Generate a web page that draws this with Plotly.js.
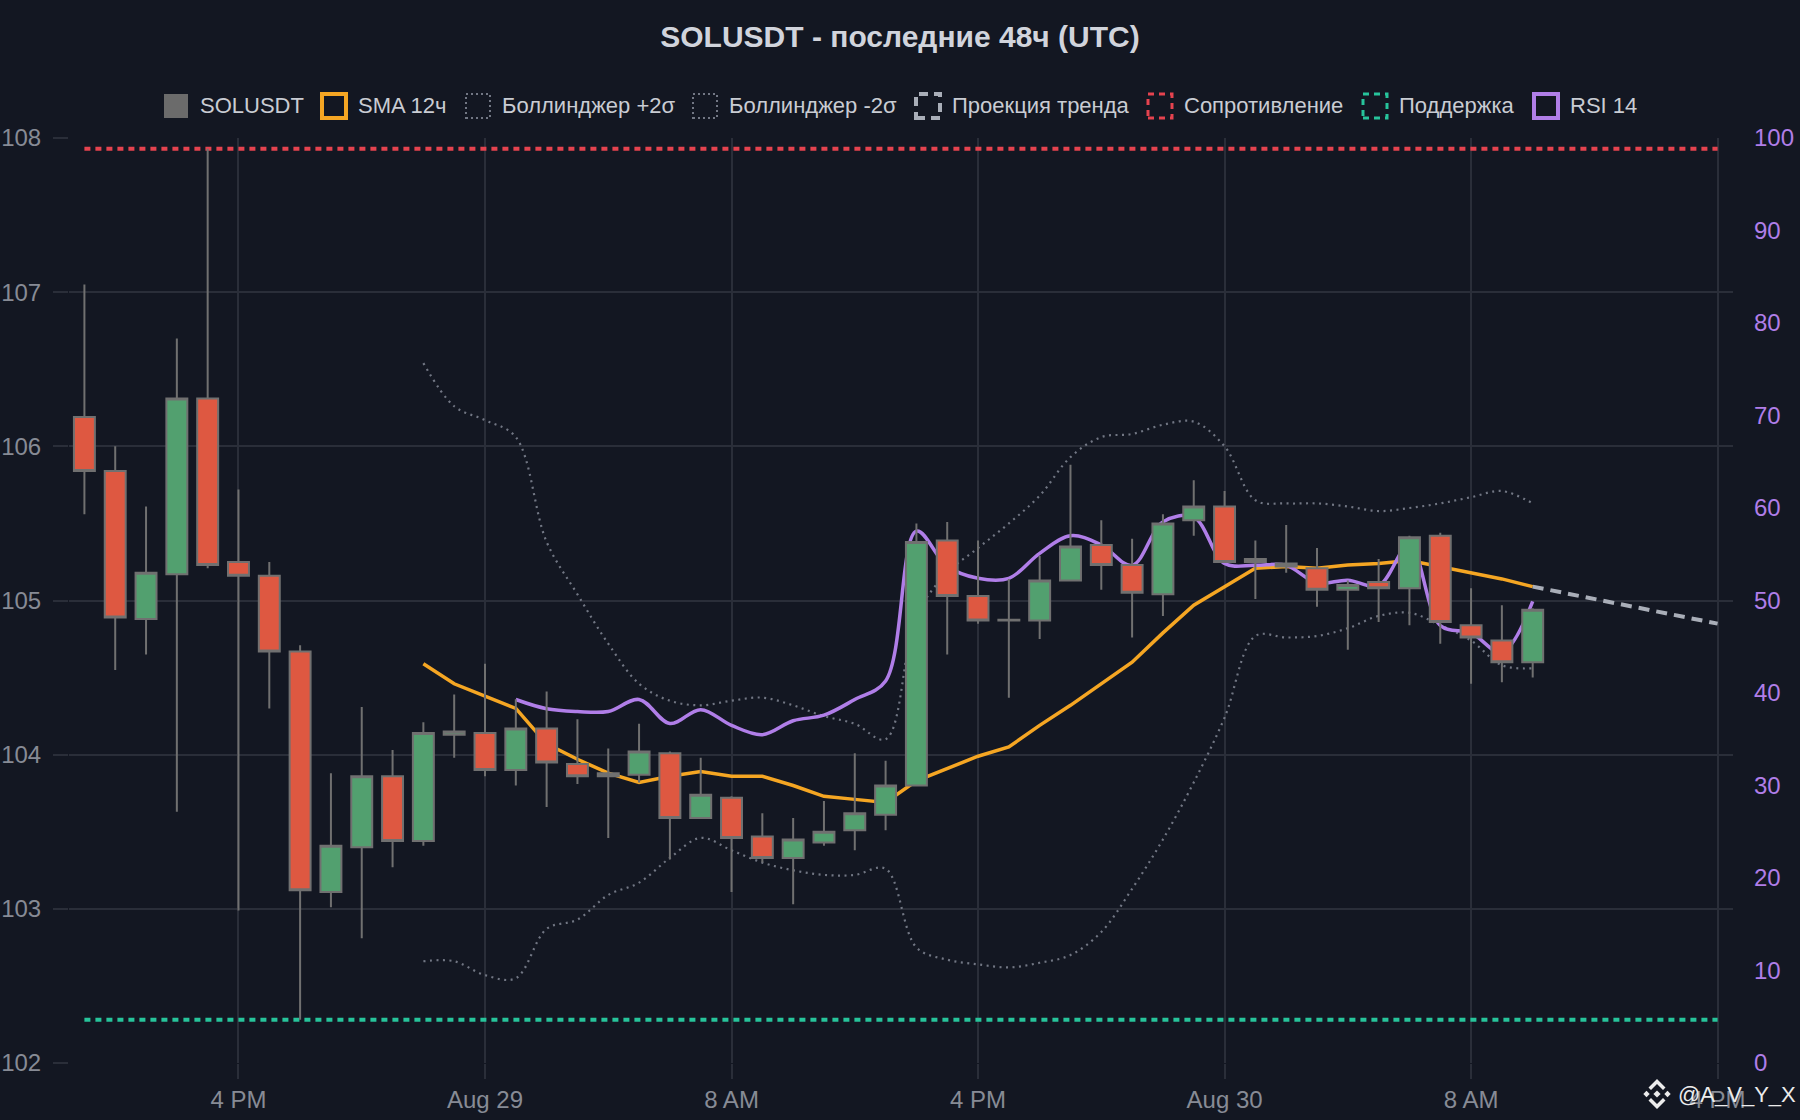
<!DOCTYPE html>
<html>
<head>
<meta charset="utf-8">
<script src="https://cdn.plot.ly/plotly-3.0.1.min.js"></script>
<style>
html,body{margin:0;padding:0;background:#131722;}
#chart{width:1800px;height:1120px;}
</style>
</head>
<body>
<div id="chart"></div>
<script>
// ---------------- DATA ----------------
const times = [
'2025-08-28 11:00','2025-08-28 12:00','2025-08-28 13:00','2025-08-28 14:00','2025-08-28 15:00','2025-08-28 16:00',
'2025-08-28 17:00','2025-08-28 18:00','2025-08-28 19:00','2025-08-28 20:00','2025-08-28 21:00','2025-08-28 22:00',
'2025-08-28 23:00','2025-08-29 00:00','2025-08-29 01:00','2025-08-29 02:00','2025-08-29 03:00','2025-08-29 04:00',
'2025-08-29 05:00','2025-08-29 06:00','2025-08-29 07:00','2025-08-29 08:00','2025-08-29 09:00','2025-08-29 10:00',
'2025-08-29 11:00','2025-08-29 12:00','2025-08-29 13:00','2025-08-29 14:00','2025-08-29 15:00','2025-08-29 16:00',
'2025-08-29 17:00','2025-08-29 18:00','2025-08-29 19:00','2025-08-29 20:00','2025-08-29 21:00','2025-08-29 22:00',
'2025-08-29 23:00','2025-08-30 00:00','2025-08-30 01:00','2025-08-30 02:00','2025-08-30 03:00','2025-08-30 04:00',
'2025-08-30 05:00','2025-08-30 06:00','2025-08-30 07:00','2025-08-30 08:00','2025-08-30 09:00','2025-08-30 10:00'
];
const openP = [106.19,105.84,104.88,105.17,106.31,105.25,105.16,104.67,103.11,103.40,103.86,103.44,
104.13,104.14,103.90,104.17,103.94,103.86,103.87,104.01,103.59,103.72,103.47,103.33,
103.43,103.51,103.61,103.80,105.39,105.03,104.87,104.87,105.13,105.36,105.23,105.04,
105.52,105.61,105.27,105.24,105.21,105.07,105.12,105.08,105.42,104.84,104.74,104.60];
const highP = [107.05,106.00,105.61,106.70,107.93,105.72,105.25,104.71,103.88,104.31,104.03,104.21,
104.39,104.59,104.36,104.41,104.23,104.04,104.20,104.02,103.98,103.73,103.62,103.59,
103.70,104.01,103.96,105.50,105.51,105.39,105.14,105.29,105.88,105.52,105.40,105.56,
105.78,105.71,105.39,105.49,105.34,105.13,105.27,105.42,105.44,105.08,104.97,104.95];
const lowP = [105.56,104.55,104.65,103.63,105.21,102.99,104.30,102.28,103.01,102.81,103.27,103.41,
103.98,103.86,103.80,103.66,103.81,103.46,103.82,103.32,103.59,103.11,103.30,103.03,
103.41,103.38,103.51,103.80,104.65,104.85,104.37,104.75,105.13,105.07,104.76,104.90,
105.42,105.25,105.01,105.18,104.96,104.68,104.86,104.84,104.72,104.46,104.47,104.50];
const closeP = [105.84,104.89,105.18,106.31,105.23,105.16,104.67,103.12,103.41,103.86,103.44,104.14,
104.15,103.90,104.17,103.95,103.86,103.88,104.02,103.59,103.74,103.46,103.33,103.45,
103.50,103.62,103.80,105.38,105.03,104.87,104.875,105.13,105.35,105.23,105.05,105.50,
105.61,105.25,105.25,105.22,105.07,105.10,105.08,105.41,104.86,104.76,104.60,104.94];

const sma12 = [null,null,null,null,null,null,null,null,null,null,null,104.59,
104.46,104.38,104.30,104.07,103.97,103.88,103.82,103.86,103.89,103.86,103.86,103.80,
103.73,103.71,103.69,103.83,103.91,103.99,104.05,104.19,104.32,104.46,104.60,104.79,
104.97,105.09,105.21,105.22,105.21,105.23,105.24,105.26,105.22,105.18,105.14,105.09];
const bbUpper = [null,null,null,null,null,null,null,null,null,null,null,106.54,
106.26,106.17,106.06,105.38,105.04,104.72,104.46,104.35,104.32,104.35,104.37,104.32,
104.25,104.20,104.10,104.90,105.18,105.34,105.50,105.68,105.93,106.06,106.08,106.14,
106.16,106.00,105.65,105.63,105.63,105.61,105.58,105.60,105.63,105.67,105.71,105.63];
const bbLower = [null,null,null,null,null,null,null,null,null,null,null,102.66,
102.66,102.57,102.55,102.87,102.93,103.09,103.17,103.33,103.46,103.38,103.30,103.25,
103.22,103.22,103.26,102.75,102.67,102.64,102.62,102.65,102.70,102.85,103.13,103.45,
103.82,104.24,104.77,104.76,104.77,104.82,104.90,104.92,104.84,104.74,104.58,104.56];
const rsi14 = [null,null,null,null,null,null,null,null,null,null,null,null,
null,null,39.3,38.3,38.0,38.0,39.3,36.7,38.2,36.5,35.5,37.0,
37.6,39.3,41.3,57.5,53.7,52.4,52.4,55.1,57.0,56.0,53.8,58.5,
59.0,54.0,53.8,53.8,51.9,52.2,51.6,56.0,47.3,46.5,44.4,49.9];

const projTimes = ['2025-08-30 10:00','2025-08-30 16:00'];
const projValues = [105.09, 104.85];
const levelTimes = ['2025-08-28 11:00','2025-08-30 16:00'];
const resistanceValues = [107.93, 107.93];
const supportValues = [102.28, 102.28];

const xTickVals = ['2025-08-28 16:00','2025-08-29 00:00','2025-08-29 08:00','2025-08-29 16:00','2025-08-30 00:00','2025-08-30 08:00','2025-08-30 16:00'];
const xTickText = ['4 PM','Aug 29','8 AM','4 PM','Aug 30','8 AM','4 PM'];
const xRange = ['2025-08-28 10:30','2025-08-30 16:30'];

const legendLabels = ['SOLUSDT','SMA 12ч','Боллинджер +2σ','Боллинджер -2σ','Проекция тренда','Сопротивление','Поддержка','RSI 14'];
const titleText = 'SOLUSDT - последние 48ч (UTC)';
const watermarkText = '@A_V_Y_X';

// ---------------- STYLE ----------------
const W = 1800, H = 1120, ML = 69, MR = 67, MT = 138, MB = 57;
const PW = W - ML - MR, PH = H - MT - MB;
const px = x => (x - ML) / PW;
const py = y => (H - MB - y) / PH;

const C = {
  bg: '#131722', grid: '#2a2e39', tick: '#878b95', title: '#d1d4dc', legendText: '#c9ccd3',
  up: '#52a06f', down: '#de5841', wick: '#707070',
  sma: '#f5a623', rsi: '#b07ee8', bb: '#727784', proj: '#a9aeb8',
  res: '#e5434f', sup: '#27c49b', white: '#ececec'
};
const FONT = 'Liberation Sans, Arial, Helvetica, sans-serif';

// ---------------- TRACES ----------------
// price lines on the base axis, RSI on an overlay, candles on a top overlay (drawn last)
const traces = [
  {type: 'scatter', mode: 'lines', x: times, y: bbUpper, line: {color: C.bb, width: 2.2, dash: '2px,4.5px', shape: 'spline'}, showlegend: false, hoverinfo: 'skip'},
  {type: 'scatter', mode: 'lines', x: times, y: bbLower, line: {color: C.bb, width: 2.2, dash: '2px,4.5px', shape: 'spline'}, showlegend: false, hoverinfo: 'skip'},
  {type: 'scatter', mode: 'lines', x: times, y: sma12, line: {color: C.sma, width: 3.5}, showlegend: false, hoverinfo: 'skip'},
  {type: 'scatter', mode: 'lines', x: levelTimes, y: resistanceValues, line: {color: C.res, width: 4, dash: '6px,5px'}, showlegend: false, hoverinfo: 'skip'},
  {type: 'scatter', mode: 'lines', x: levelTimes, y: supportValues, line: {color: C.sup, width: 4, dash: '6px,5px'}, showlegend: false, hoverinfo: 'skip'},
  {type: 'scatter', mode: 'lines', x: projTimes, y: projValues, line: {color: C.proj, width: 4, dash: '11px,7px'}, showlegend: false, hoverinfo: 'skip'},
  {type: 'scatter', mode: 'lines', x: times, y: rsi14, yaxis: 'y2', line: {color: C.rsi, width: 3.5, shape: 'spline'}, showlegend: false, hoverinfo: 'skip'},
  {
    type: 'candlestick', x: times, open: openP, high: highP, low: lowP, close: closeP, yaxis: 'y3',
    increasing: {fillcolor: C.up, line: {color: C.wick, width: 2}},
    decreasing: {fillcolor: C.down, line: {color: C.wick, width: 2}},
    whiskerwidth: 0, showlegend: false, hoverinfo: 'skip', name: 'SOLUSDT'
  }
];

// ---------------- LEGEND (custom, square icons) ----------------
const legendIconLeft = [164, 322, 466, 693, 916, 1148, 1363, 1534];
const legendIconStyle = [
  {fill: '#6b6b6b', color: '#6b6b6b', width: 0, dash: 'solid'},
  {fill: 'rgba(0,0,0,0)', color: C.sma, width: 4, dash: 'solid'},
  {fill: 'rgba(0,0,0,0)', color: C.bb, width: 2, dash: '2px,3px'},
  {fill: 'rgba(0,0,0,0)', color: C.bb, width: 2, dash: '2px,3px'},
  {fill: 'rgba(0,0,0,0)', color: C.proj, width: 4, dash: '9px,6px'},
  {fill: 'rgba(0,0,0,0)', color: C.res, width: 3, dash: '6px,5px'},
  {fill: 'rgba(0,0,0,0)', color: C.sup, width: 3, dash: '6px,5px'},
  {fill: 'rgba(0,0,0,0)', color: C.rsi, width: 4, dash: 'solid'}
];
const LEG_Y = 106, ICON = 24;
const shapes = [];
const annotations = [];
legendLabels.forEach((lab, i) => {
  const x0 = legendIconLeft[i], st = legendIconStyle[i];
  shapes.push({
    type: 'rect', xref: 'paper', yref: 'paper', layer: 'above',
    x0: px(x0), x1: px(x0 + ICON), y0: py(LEG_Y + ICON / 2), y1: py(LEG_Y - ICON / 2),
    fillcolor: st.fill, line: {color: st.color, width: st.width, dash: st.dash}
  });
  annotations.push({
    xref: 'paper', yref: 'paper', x: px(x0 + ICON + 11), y: py(LEG_Y), xanchor: 'left', yanchor: 'middle',
    text: lab, showarrow: false, font: {family: FONT, size: 22, color: C.legendText}, borderpad: 0
  });
});

// watermark: Binance-like logo + handle
const LX = 1657, LY = 1094;
function poly(pts) {
  return 'M' + pts.map(p => px(p[0]) + ',' + py(p[1])).join('L') + 'Z';
}
function diamond(cx, cy, r) { return poly([[cx, cy - r], [cx + r, cy], [cx, cy + r], [cx - r, cy]]); }
const logoPaths = [
  diamond(LX, LY, 3.6),
  diamond(LX - 10.5, LY, 3.2),
  diamond(LX + 10.5, LY, 3.2),
  poly([[LX, LY - 15], [LX + 8.5, LY - 6.5], [LX + 6, LY - 4], [LX, LY - 10], [LX - 6, LY - 4], [LX - 8.5, LY - 6.5]]),
  poly([[LX, LY + 15], [LX + 8.5, LY + 6.5], [LX + 6, LY + 4], [LX, LY + 10], [LX - 6, LY + 4], [LX - 8.5, LY + 6.5]])
];
logoPaths.forEach(p => shapes.push({type: 'path', xref: 'paper', yref: 'paper', layer: 'above', path: p, fillcolor: C.white, line: {width: 0}}));
annotations.push({
  xref: 'paper', yref: 'paper', x: px(1677), y: py(LY), xanchor: 'left', yanchor: 'middle',
  text: watermarkText, showarrow: false, font: {family: FONT, size: 22, color: C.white}, borderpad: 0
});

// ---------------- LAYOUT ----------------
const layout = {
  width: W, height: H,
  paper_bgcolor: C.bg, plot_bgcolor: C.bg,
  margin: {l: ML, r: MR, t: MT, b: MB, pad: 0},
  font: {family: FONT, color: C.tick},
  showlegend: false,
  hovermode: false,
  boxgap: 0.15, boxgroupgap: 0.2,
  title: {
    text: '<b>' + titleText + '</b>', x: 0.5, xanchor: 'center', y: 1 - 36 / H, yanchor: 'middle', yref: 'container',
    font: {family: FONT, size: 30, color: C.title}
  },
  xaxis: {
    type: 'date', range: xRange, tickmode: 'array', tickvals: xTickVals, ticktext: xTickText,
    showgrid: true, gridcolor: C.grid, gridwidth: 2, zeroline: false, showline: false,
    ticks: 'outside', ticklen: 15, tickwidth: 2, tickcolor: C.grid, ticklabelstandoff: 0,
    tickfont: {family: FONT, size: 24, color: C.tick},
    rangeslider: {visible: false}, fixedrange: true
  },
  yaxis: {
    range: [102, 108], dtick: 1, tick0: 102, showgrid: true, gridcolor: C.grid, gridwidth: 2,
    zeroline: false, showline: false, ticks: 'outside', ticklen: 15, tickwidth: 2, tickcolor: C.grid,
    ticklabelstandoff: 7, tickfont: {family: FONT, size: 24, color: C.tick}, fixedrange: true
  },
  yaxis2: {
    overlaying: 'y', side: 'right', range: [0, 100], dtick: 10, tick0: 0, showgrid: false, zeroline: false,
    showline: false, ticks: '', ticklabelstandoff: 20, tickfont: {family: FONT, size: 24, color: C.rsi}, fixedrange: true
  },
  yaxis3: {
    overlaying: 'y', side: 'left', range: [102, 108], visible: false, showgrid: false, zeroline: false, fixedrange: true
  },
  shapes: shapes,
  annotations: annotations
};

Plotly.newPlot('chart', traces, layout, {displayModeBar: false, staticPlot: true});
</script>
</body>
</html>
